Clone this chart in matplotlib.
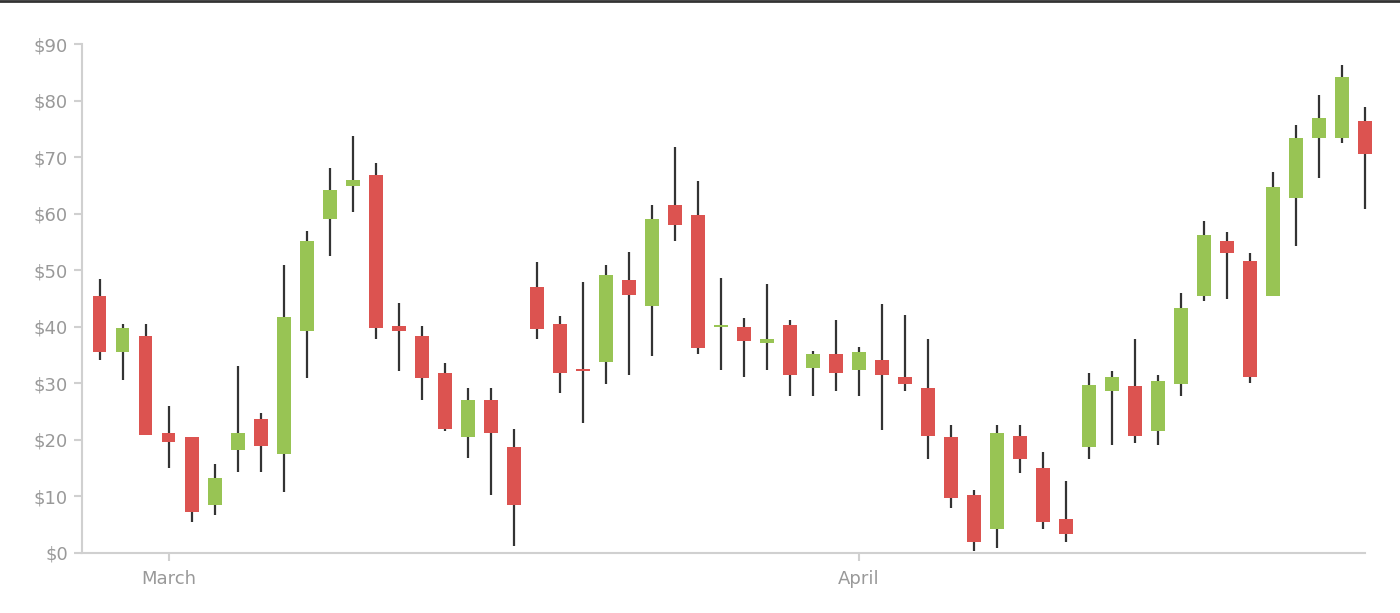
import matplotlib
matplotlib.use("Agg")
import matplotlib.pyplot as plt
from matplotlib.lines import Line2D

opens  = [45.5,35.6,38.4,21.3,20.5,8.4,18.2,23.7,17.5,39.3,59.1,64.9,66.8,40.2,
          38.4,31.9,20.5,27.0,18.8,47.0,40.5,32.6,33.8,48.3,43.7,61.6,59.8,39.9,
          39.9,37.1,40.3,32.7,35.1,32.3,34.2,31.1,29.1,20.5,10.3,4.2,20.6,15.0,
          6.1,18.7,28.7,29.6,21.5,29.9,45.5,55.2,51.6,45.5,62.7,73.4,73.4,76.4]
closes = [35.6,39.8,20.9,19.6,7.2,13.3,21.3,18.9,41.7,55.2,64.2,66.0,39.8,39.3,
          31.0,22.0,27.0,21.3,8.4,39.6,31.9,32.2,49.2,45.7,59.0,58.0,36.3,40.3,
          37.5,37.8,31.5,35.1,31.9,35.6,31.5,29.8,20.6,9.7,2.0,21.2,16.6,5.5,
          3.4,29.7,31.1,20.6,30.4,43.3,56.3,53.0,31.2,64.8,73.4,76.9,84.2,70.5]
highs  = [48.4,40.5,40.5,26.0,20.5,15.7,33.0,24.7,50.9,56.9,68.0,73.7,68.9,44.2,
          40.2,33.6,29.1,29.1,22.0,51.4,41.9,48.0,51.0,53.3,61.6,71.8,65.7,48.7,
          41.5,47.6,41.2,35.7,41.2,36.4,44.0,42.0,37.8,22.7,11.1,22.7,22.7,17.8,
          12.7,31.8,32.1,37.8,31.5,46.0,58.7,56.8,53.0,67.4,75.7,80.9,86.3,78.8]
lows   = [34.2,30.6,20.9,15.0,5.4,6.7,14.3,14.3,10.8,30.9,52.6,60.3,37.8,32.2,
          27.0,21.5,16.8,10.3,1.3,37.8,28.3,22.9,29.8,31.5,34.8,55.2,35.1,32.4,
          31.1,32.4,27.8,27.8,28.6,27.8,21.8,28.6,16.6,7.9,0.4,0.9,14.1,4.2,
          2.0,16.6,19.1,19.5,19.1,27.8,44.6,44.9,30.0,45.5,54.2,66.3,72.5,60.8]
tick_pos = [3, 33]
tick_labels = ["March", "April"]
y_ticks = [0, 10, 20, 30, 40, 50, 60, 70, 80, 90]

RED = "#dc5350"
GREEN = "#98c454"
GRAY = "#999999"

fig = plt.figure(figsize=(14, 6.13), dpi=100)
ax = fig.add_axes([82/1400, 60/613, (1365-82)/1400, (553-44)/613])
w = 0.57
for i, (o, c, h, l) in enumerate(zip(opens, closes, highs, lows)):
    ax.vlines(i, l, h, color="#333333", linewidth=1.6, zorder=1, clip_on=False)
    col = GREEN if c >= o else RED
    bot = min(o, c)
    ht = max(abs(c - o), 0.35)
    ax.bar(i, ht, bottom=bot, width=w, color=col, edgecolor="none", zorder=2, clip_on=False)

ax.set_xlim(-0.78, 55.0)
ax.set_ylim(0, 90)
ax.set_yticks(y_ticks)
ax.set_yticklabels([f"${v}" for v in y_ticks])
ax.set_xticks(tick_pos)
ax.set_xticklabels(tick_labels)
for s in ["top", "right"]:
    ax.spines[s].set_visible(False)
for s in ["left", "bottom"]:
    ax.spines[s].set_color("#d0d0d0")
    ax.spines[s].set_linewidth(1.5)
ax.tick_params(axis="both", colors="#d0d0d0", labelcolor=GRAY, labelsize=13, length=6, width=1.5)
ax.tick_params(axis="y", pad=4)
ax.tick_params(axis="x", pad=6)
fig.add_artist(Line2D([0, 1], [0.998, 0.998], color="#333333", linewidth=2, transform=fig.transFigure))
fig.savefig("out.png", dpi=100)
